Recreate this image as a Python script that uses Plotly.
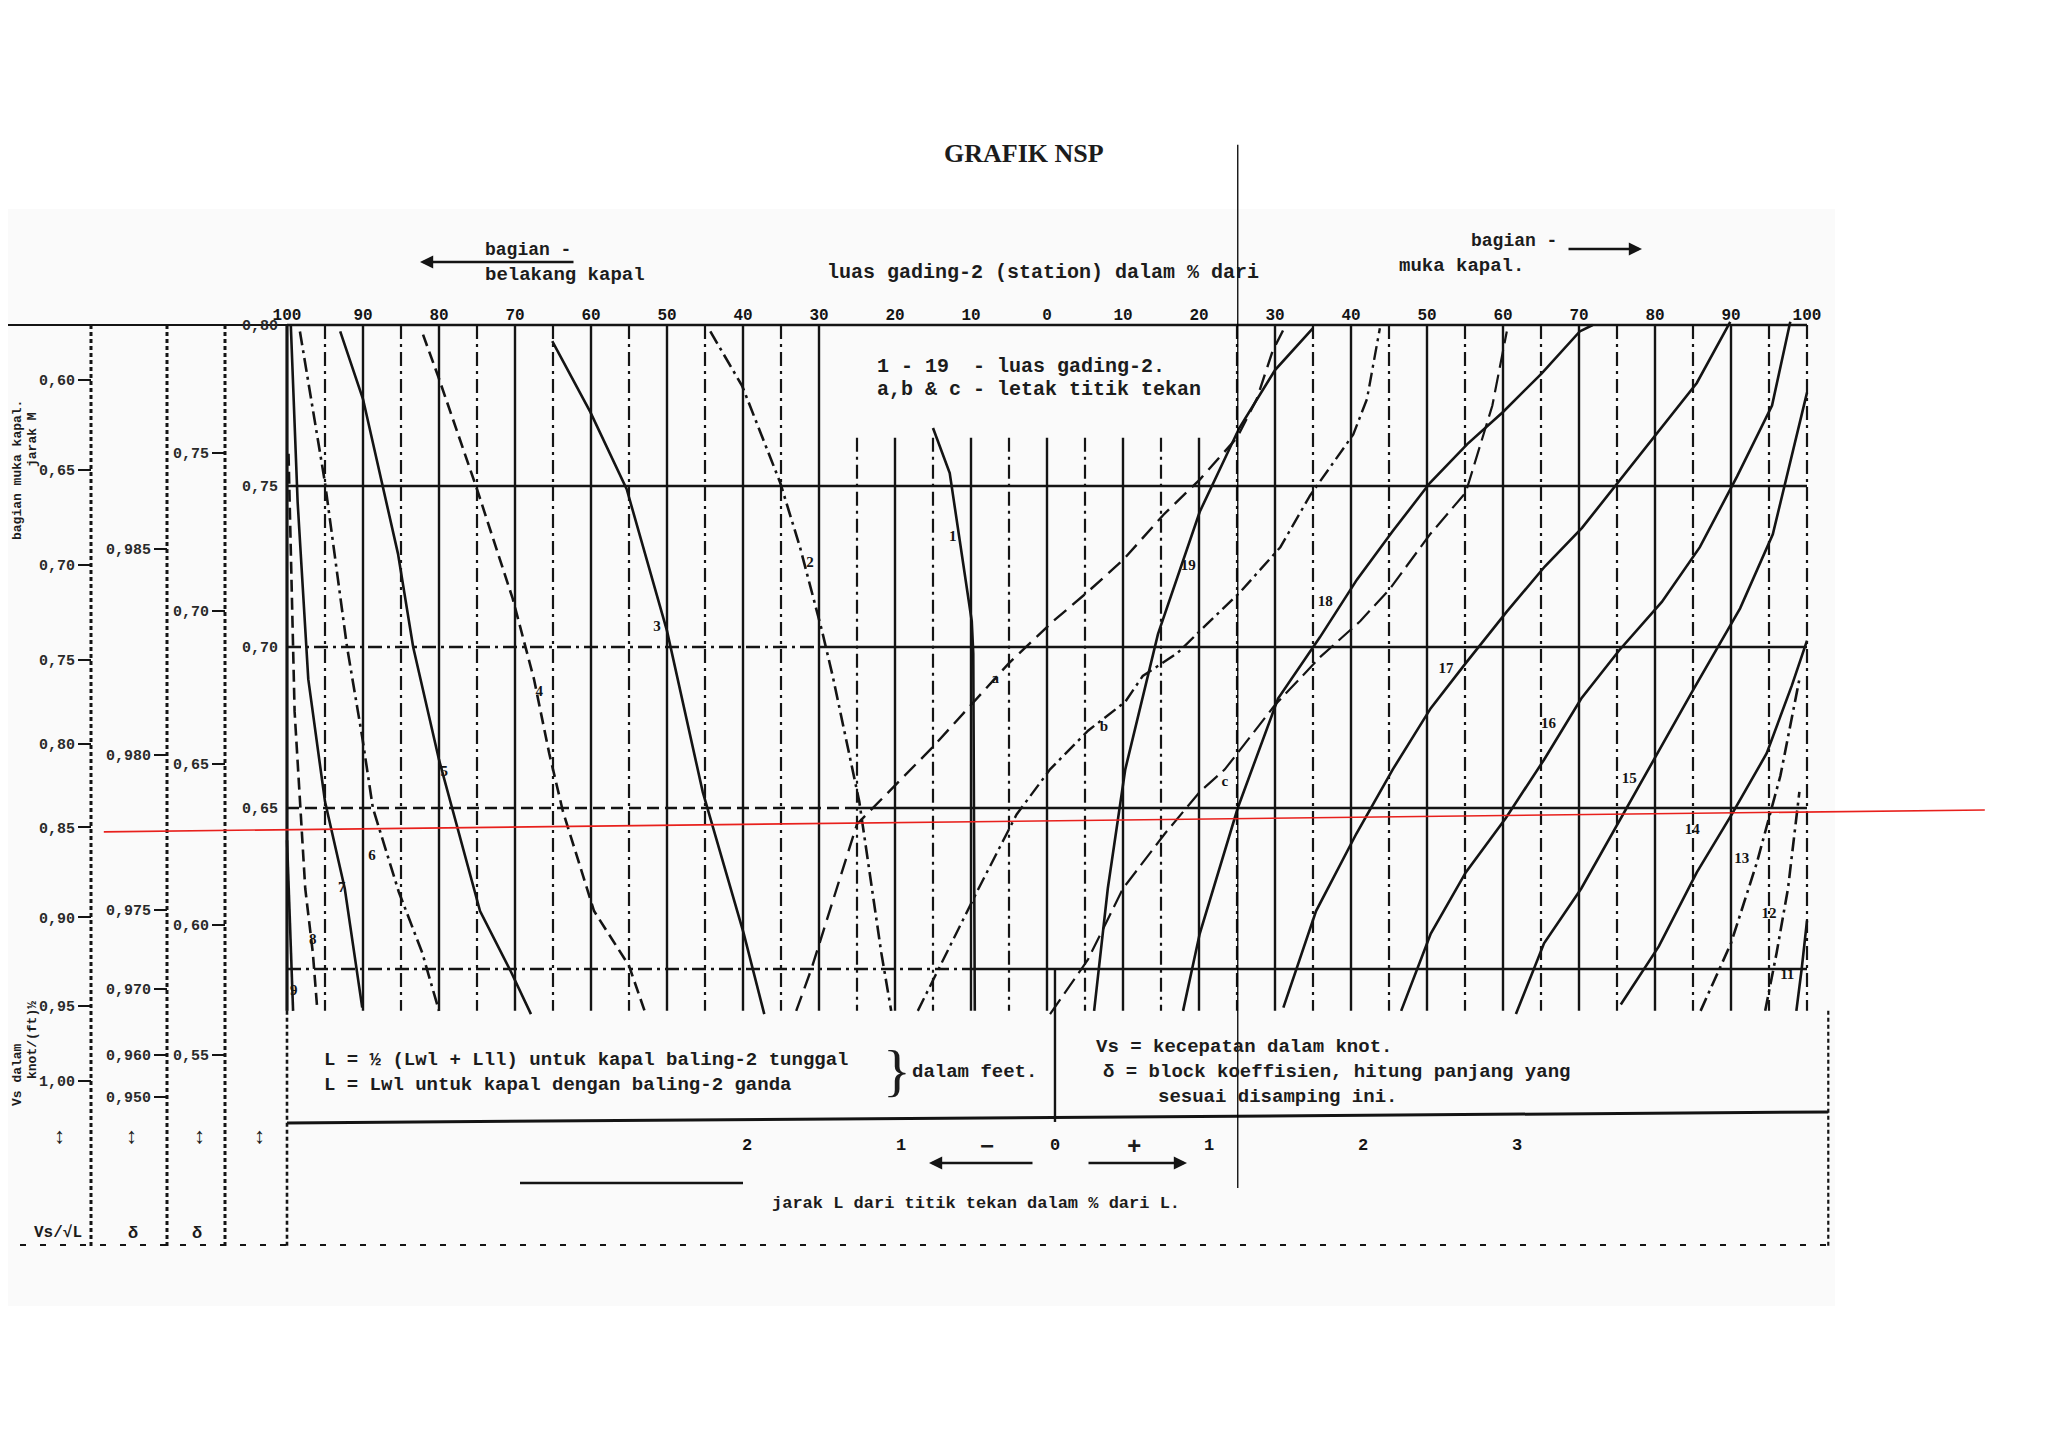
import plotly.graph_objects as go

# size of the scanned sheet (px); the page body keeps an 8 px margin
W, H = 2048, 1449
OFF = 8
FW, FH = W - 2 * OFF, H - 2 * OFF

# ---------------------------------------------------------------
# data
# ---------------------------------------------------------------
# top scale: luas gading-2 (station) in %, belakang (aft) < 0 < muka (fore)
pct_ticks = list(range(-100, 101, 10))
pct_text = [str(abs(v)) for v in pct_ticks]
grid_pct = list(range(-100, 101, 5))

# block coefficient lines of the main field
delta_lines = [0.80, 0.75, 0.70, 0.65, 0.60]
delta_ticks = [0.80, 0.75, 0.70, 0.65]
delta_text = ["0,80", "0,75", "0,70", "0,65"]

# side scales: tick text and the delta height each tick sits at
vs_text = ["0,60", "0,65", "0,70", "0,75", "0,80", "0,85", "0,90", "0,95", "1,00"]
vs_at = [0.783, 0.755, 0.7255, 0.696, 0.670, 0.644, 0.616, 0.5885, 0.5652]
cb_text = ["0,985", "0,980", "0,975", "0,970", "0,960", "0,950"]
cb_at = [0.7304, 0.6665, 0.6183, 0.5938, 0.5733, 0.5602]
d2_text = ["0,75", "0,70", "0,65", "0,60", "0,55"]
d2_at = [0.7602, 0.7112, 0.6637, 0.6137, 0.5733]

# bottom scale: letak titik tekan dalam % dari L
lcb_ticks = [-2, -1, 0, 1, 2, 3]
lcb_text = ["2", "1", "0", "1", "2", "3"]

# station curves, x = % luas gading, y = delta
st1_x = [-15.0, -12.8, -9.9, -9.7, -9.5]
st1_y = [0.768, 0.754, 0.708, 0.698, 0.587]
st2_x = [-44.3, -40.1, -35.1, -32.5, -29.6, -28.2, -24.7, -21.8, -20.5]
st2_y = [0.798, 0.781, 0.751, 0.731, 0.705, 0.691, 0.652, 0.605, 0.587]
st3_x = [-65.1, -60.1, -55.3, -50.0, -45.3, -39.9, -37.2]
st3_y = [0.795, 0.773, 0.749, 0.705, 0.655, 0.611, 0.586]
st4_x = [-82.1, -80.1, -75.0, -70.3, -67.5, -65.5, -63.7, -59.6, -55.0, -52.8]
st4_y = [0.797, 0.784, 0.749, 0.715, 0.690, 0.667, 0.649, 0.618, 0.601, 0.586]
st5_x = [-93.0, -90.0, -85.4, -84.1, -83.4, -80.0, -74.6, -70.5, -67.9]
st5_y = [0.798, 0.777, 0.729, 0.710, 0.700, 0.665, 0.618, 0.599, 0.586]
st6_x = [-98.3, -95.0, -92.1, -90.1, -88.7, -85.3, -82.2, -80.0]
st6_y = [0.798, 0.751, 0.700, 0.672, 0.650, 0.624, 0.605, 0.587]
st7_x = [-99.5, -98.6, -97.2, -95.0, -92.4, -90.1]
st7_y = [0.800, 0.745, 0.690, 0.652, 0.625, 0.588]
st8_x = [-99.8, -99.0, -97.6, -96.6, -96.0]
st8_y = [0.760, 0.680, 0.625, 0.605, 0.587]
st9_x = [-100.0, -99.6, -99.2]
st9_y = [0.640, 0.610, 0.587]

st11_x = [98.6, 99.3, 100.0]
st11_y = [0.587, 0.600, 0.615]
st12_x = [94.5, 96.0, 97.5, 99.0]
st12_y = [0.587, 0.605, 0.625, 0.655]
st13_x = [86.0, 90.0, 93.4, 96.5, 99.0]
st13_y = [0.587, 0.608, 0.633, 0.660, 0.690]
st14_x = [75.5, 80.5, 85.5, 90.1, 94.7, 98.0, 100.0]
st14_y = [0.589, 0.607, 0.630, 0.648, 0.667, 0.688, 0.702]
st15_x = [61.7, 65.4, 70.3, 75.3, 80.3, 85.1, 91.2, 95.5, 100.0]
st15_y = [0.586, 0.608, 0.625, 0.646, 0.667, 0.687, 0.712, 0.735, 0.779]
st16_x = [46.6, 50.5, 55.1, 60.4, 65.4, 70.3, 75.3, 80.9, 85.9, 90.8, 95.4, 97.8]
st16_y = [0.587, 0.611, 0.630, 0.647, 0.665, 0.684, 0.699, 0.714, 0.731, 0.753, 0.775, 0.801]
st17_x = [31.1, 35.4, 40.7, 45.5, 50.5, 55.1, 60.5, 65.5, 70.4, 75.4, 80.4, 85.5, 89.9]
st17_y = [0.588, 0.618, 0.642, 0.662, 0.681, 0.695, 0.711, 0.725, 0.737, 0.752, 0.767, 0.782, 0.801]
st18_x = [17.9, 20.1, 25.1, 30.4, 35.9, 40.8, 45.5, 50.4, 55.3, 60.0, 65.1, 70.1, 71.8]
st18_y = [0.587, 0.611, 0.650, 0.684, 0.703, 0.721, 0.736, 0.751, 0.763, 0.773, 0.785, 0.798, 0.800]
st19_x = [6.2, 8.0, 10.3, 14.6, 20.1, 25.3, 30.0, 35.0]
st19_y = [0.587, 0.625, 0.662, 0.704, 0.742, 0.768, 0.786, 0.799]

# letak titik tekan a, b, c
a_x = [-33.0, -31.0, -25.0, -15.0, -5.0, 0.8, 5.3, 10.0, 15.3, 20.1, 25.0, 27.6, 29.7, 31.2]
a_y = [0.587, 0.600, 0.645, 0.669, 0.695, 0.708, 0.717, 0.727, 0.741, 0.752, 0.765, 0.777, 0.792, 0.799]
b_x = [-17.0, -9.0, -4.0, 0.4, 5.4, 10.3, 12.6, 17.1, 21.0, 25.4, 30.7, 34.6, 40.3, 42.1, 43.8]
b_y = [0.587, 0.625, 0.648, 0.662, 0.674, 0.683, 0.691, 0.698, 0.707, 0.717, 0.731, 0.747, 0.766, 0.777, 0.799]
c_x = [0.4, 5.4, 10.0, 15.5, 20.1, 23.4, 30.0, 36.0, 41.2, 45.1, 50.4, 55.1, 58.6, 60.5]
c_y = [0.586, 0.603, 0.625, 0.642, 0.655, 0.662, 0.682, 0.697, 0.708, 0.718, 0.735, 0.748, 0.775, 0.798]

# curve labels
lab_text = ["1", "2", "3", "4", "5", "6", "7", "8", "9",
            "11", "12", "13", "14", "15", "16", "17", "18", "19", "a", "b", "c"]
lab_x = [-12.4, -31.2, -51.3, -66.8, -79.3, -88.8, -92.8, -96.6, -99.1,
         97.4, 95.0, 91.4, 84.9, 76.6, 66.0, 52.5, 36.6, 18.6, -6.8, 7.5, 23.4]
lab_y = [0.734, 0.726, 0.706, 0.686, 0.661, 0.635, 0.625, 0.609, 0.593,
         0.598, 0.617, 0.634, 0.643, 0.659, 0.676, 0.693, 0.714, 0.725, 0.690, 0.675, 0.658]

# pen marks drawn over the scan
red_x = [-124.1, 123.4]
red_y = [0.6426, 0.6494]
thin_x = [25.1, 25.1]
thin_y = [0.856, 0.532]

# ---------------------------------------------------------------
INK = "#141414"
MONO = "Liberation Mono"
SERIF = "Liberation Serif"
DASHDOT = "14px,5px,3px,5px"
DASH = "12px,6px"
DOTS = "4px,3px"


# sheet pixel -> data units (x: % station, y: delta) and -> paper fraction
def p_at(px):
    return (px - 1047) / 7.6


def d_at(py):
    return 0.80 - (py - 325) / 3220


def fx(px):
    return (px - OFF) / FW


def fy(py):
    return 1 - (py - OFF) / FH


# main axes span the whole figure so data units line up with the sheet
x_rng = [p_at(OFF), p_at(W - OFF)]
y_rng = [d_at(H - OFF), d_at(OFF)]
lcb_rng = [(OFF - 1055) / 154, (W - OFF - 1055) / 154]

fig = go.Figure()


def add_line(x, y, dash="solid", width=2.6, color=INK):
    fig.add_trace(go.Scatter(x=x, y=y, mode="lines", hoverinfo="skip",
                             line=dict(color=color, width=width, dash=dash)))


# vertical grid of the station field
top_full, top_box, bottom = 0.80, 0.765, 0.587
sx, sy, dx, dy = [], [], [], []
for p in grid_pct:
    top = top_box if -25 <= p <= 20 else top_full
    if p % 10 == 0 and p != 100:
        sx += [p, p, None]
        sy += [top, bottom, None]
    else:
        dx += [p, p, None]
        dy += [top, bottom, None]
add_line(sx, sy, width=2.4)
add_line(dx, dy, dash=DASHDOT, width=2.2)

# horizontal delta lines (left parts are broken in the scan)
split = {0.80: -100, 0.75: -100, 0.70: -30, 0.65: -25, 0.60: -10}
for d in delta_lines:
    s = split[d]
    if s > -100:
        add_line([-100, s], [d, d], dash=DASHDOT if d != 0.65 else DASH, width=2.4)
    add_line([s, 100], [d, d], width=2.6)
add_line([p_at(0), -100], [0.80, 0.80], width=2.2)

# station curves
curves = [
    (st1_x, st1_y, "solid"), (st2_x, st2_y, DASHDOT), (st3_x, st3_y, "solid"),
    (st4_x, st4_y, DASH), (st5_x, st5_y, "solid"), (st6_x, st6_y, DASHDOT),
    (st7_x, st7_y, "solid"), (st8_x, st8_y, DASH), (st9_x, st9_y, "solid"),
    (st11_x, st11_y, "solid"), (st12_x, st12_y, DASHDOT), (st13_x, st13_y, DASHDOT),
    (st14_x, st14_y, "solid"), (st15_x, st15_y, "solid"), (st16_x, st16_y, "solid"),
    (st17_x, st17_y, "solid"), (st18_x, st18_y, "solid"), (st19_x, st19_y, "solid"),
]
for cx, cy, ds in curves:
    add_line(cx, cy, dash=ds, width=2.6)

add_line(a_x, a_y, dash="16px,8px", width=2.4)
add_line(b_x, b_y, dash=DASHDOT, width=2.4)
add_line(c_x, c_y, dash="18px,7px", width=2.2)

fig.add_trace(go.Scatter(x=lab_x, y=lab_y, mode="text", text=lab_text, hoverinfo="skip",
                         textfont=dict(family=SERIF, size=15, color=INK, weight="bold")))

# side scale lines, box borders and the bottom base line
for px in [91, 167, 225]:
    add_line([p_at(px)] * 2, [0.80, 0.514], dash=DOTS, width=3)
add_line([-100, -100], [0.80, bottom], width=3)
add_line([-100, -100], [bottom, 0.514], dash=DOTS, width=2.6)
add_line([102.8, 102.8], [bottom, 0.514], dash=DOTS, width=2.2)
add_line([p_at(0), 102.8], [0.5143, 0.5143], dash="6px,14px", width=2)
add_line([-100, 102.8], [0.5522, 0.5556], width=3)
add_line([1.05, 1.05], [0.60, 0.5525], width=2.4)
add_line([p_at(520), p_at(743)], [d_at(1183)] * 2, width=2.4)

# pen marks
add_line(thin_x, thin_y, width=1.3, color="#000000")
add_line(red_x, red_y, width=1.6, color="#e8201c")

# dummy traces so the helper axes are drawn
fig.add_trace(go.Scatter(x=[None], y=[None], xaxis="x2", yaxis="y"))
fig.add_trace(go.Scatter(x=[None], y=[None], xaxis="x3", yaxis="y"))
for ya in ["y2", "y3", "y4", "y5"]:
    fig.add_trace(go.Scatter(x=[None], y=[None], xaxis="x", yaxis=ya))

tick_font = dict(family=MONO, size=16, color=INK, weight="bold")
side_axis = dict(overlaying="y", range=y_rng, anchor="free", side="left",
                 showgrid=False, zeroline=False, showline=False,
                 ticks="outside", ticklen=13, tickwidth=2.4, tickcolor=INK,
                 tickfont=dict(family=MONO, size=15, color="#2a2a2a", weight="bold"))

fig.update_layout(
    width=FW, height=FH, margin=dict(l=0, r=0, t=0, b=0),
    paper_bgcolor="white", plot_bgcolor="rgba(0,0,0,0)",
    showlegend=False, separators=",.",
    xaxis=dict(range=x_rng, visible=False),
    yaxis=dict(range=y_rng, visible=False),
    xaxis2=dict(overlaying="x", range=x_rng, anchor="free", position=fy(325),
                side="top", tickvals=pct_ticks, ticktext=pct_text, ticks="",
                showgrid=False, zeroline=False, showline=False, ticklabelstandoff=2,
                tickfont=tick_font),
    xaxis3=dict(overlaying="x", range=lcb_rng, anchor="free", position=fy(1126),
                side="bottom", tickvals=lcb_ticks, ticktext=lcb_text, ticks="",
                showgrid=False, zeroline=False, showline=False, ticklabelstandoff=6,
                tickfont=dict(family=MONO, size=17, color=INK, weight="bold")),
    yaxis2=dict(side_axis, position=fx(91), tickvals=vs_at, ticktext=vs_text),
    yaxis3=dict(side_axis, position=fx(167), tickvals=cb_at, ticktext=cb_text),
    yaxis4=dict(side_axis, position=fx(225), tickvals=d2_at, ticktext=d2_text),
    yaxis5=dict(side_axis, position=fx(287), tickvals=delta_ticks, ticktext=delta_text,
                ticks="", ticklabelstandoff=9),
)

# faint tone of the scanned paper
fig.add_shape(type="rect", xref="paper", yref="paper", layer="below",
              x0=0, x1=fx(1835), y0=fy(1306), y1=fy(209),
              fillcolor="#fafafa", line_width=0)


def note(text, px, py, size=19, anchor="left", family=MONO, angle=0, bold=True):
    fig.add_annotation(text=text, x=fx(px), y=fy(py), xref="paper", yref="paper",
                       showarrow=False, xanchor=anchor, yanchor="middle", textangle=angle,
                       font=dict(family=family, size=size, color="#1c1c1c",
                                 weight="bold" if bold else "normal"))


note("GRAFIK NSP", 1024, 154, size=26, anchor="center", family=SERIF)
note("bagian -", 483, 250, size=18)
note("belakang kapal", 483, 275, size=19)
note("luas gading-2 (station) dalam % dari", 825, 272, size=20)
note("bagian -", 1469, 241, size=18)
note("muka kapal.", 1397, 266, size=19)
note("1 - 19  - luas gading-2.", 875, 366, size=20)
note("a,b & c - letak titik tekan", 875, 389, size=20)
note("L = ½ (Lwl + Lll) untuk kapal baling-2 tunggal", 322, 1060, size=19)
note("L = Lwl untuk kapal dengan baling-2 ganda", 322, 1085, size=19)
note("}", 897, 1070, size=58, anchor="center", family=SERIF, bold=False)
note("dalam feet.", 910, 1072, size=19)
note("Vs = kecepatan dalam knot.", 1094, 1047, size=19)
note("δ = block koeffisien, hitung panjang yang", 1101, 1072, size=19)
note("sesuai disamping ini.", 1156, 1097, size=19)
note("−", 987, 1147, size=24, anchor="center")
note("+", 1134, 1147, size=24, anchor="center")
note("jarak L dari titik tekan dalam % dari L.", 770, 1203, size=17)
note("bagian muka kapal.", 17, 470, size=13, anchor="center", angle=-90)
note("jarak M", 32, 440, size=13, anchor="center", angle=-90)
note("Vs dalam", 17, 1075, size=13, anchor="center", angle=-90)
note("knot/(ft)½", 32, 1040, size=13, anchor="center", angle=-90)
for px in [59, 131, 199, 259]:
    note("↕", px, 1137, size=22, anchor="center", bold=False)
note("Vs/√L", 58, 1233, size=16, anchor="center")
note("δ", 133, 1233, size=17, anchor="center")
note("δ", 197, 1233, size=17, anchor="center")


def arrow(hx, hy, tail_dx):
    fig.add_annotation(x=fx(hx), y=fy(hy), xref="paper", yref="paper", text="",
                       showarrow=True, ax=tail_dx, ay=0, arrowhead=2, arrowsize=1.1,
                       arrowwidth=2.4, arrowcolor=INK)


arrow(420, 262, 155)
arrow(1642, 249, -75)
arrow(929, 1163, 105)
arrow(1187, 1163, -100)

fig.write_html("out.html")
